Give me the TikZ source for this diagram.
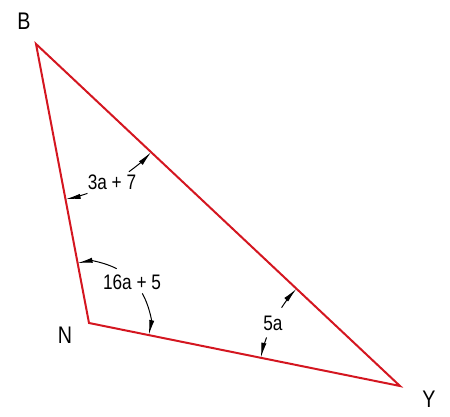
\documentclass[tikz,border=0pt]{standalone}
\usepackage{fontspec}
\setmainfont{Liberation Sans}
\newfontfamily\narrowsans[FakeStretch=0.82]{Liberation Sans}
\usetikzlibrary{arrows.meta}
\definecolor{edgered}{RGB}{212,22,32}

\begin{document}
\begin{tikzpicture}[x=0.5pt, y=0.5pt,
    side/.style ={draw=edgered, line width=1pt, line join=miter},
    dimarc/.style ={draw=black, line width=0.5pt, -{Latex[length=7.5pt, width=2.6pt]}},
    vertexlabel/.style ={font=\narrowsans\fontsize{12}{14}\selectfont},
    anglelabel/.style ={font=\narrowsans\fontsize{10.5}{12}\selectfont, inner sep=1pt}]
   \useasboundingbox (0,0) rectangle (450,417);

   \coordinate (B) at (36,373);
   \coordinate (N) at (89,94);
   \coordinate (Y) at (400,31);

   \node[vertexlabel] (lB) at (24,396)  {B};
   \node[vertexlabel] (lN) at (65,82)   {N};
   \node[vertexlabel] (lY) at (429,18)  {Y};

   \draw[side] (B) -- (N) -- (Y) -- cycle;

   % angle at B
   \node[anglelabel] (aB) at (112,235) {3a + 7};
   \draw[dimarc] ([shift={(-71:158)}]B) arc[start angle=-71, end angle=-79.2, radius=158];
   \draw[dimarc] ([shift={(-54:158)}]B) arc[start angle=-54, end angle=-43.2, radius=158];

   % angle at N
   \node[anglelabel] (aN) at (132,135) {16a + 5};
   \draw[dimarc] ([shift={(63:61)}]N) arc[start angle=63, end angle=100.8, radius=61];
   \draw[dimarc] ([shift={(29:61)}]N) arc[start angle=29, end angle=-11.4, radius=61];

   % angle at Y
   \node[anglelabel] (aY) at (273,94) {5a};
   \draw[dimarc] ([shift={(146.5:142)}]Y) arc[start angle=146.5, end angle=136.8, radius=142];
   \draw[dimarc] ([shift={(160:142)}]Y) arc[start angle=160, end angle=168.5, radius=142];

 \end{tikzpicture}
\end{document}
